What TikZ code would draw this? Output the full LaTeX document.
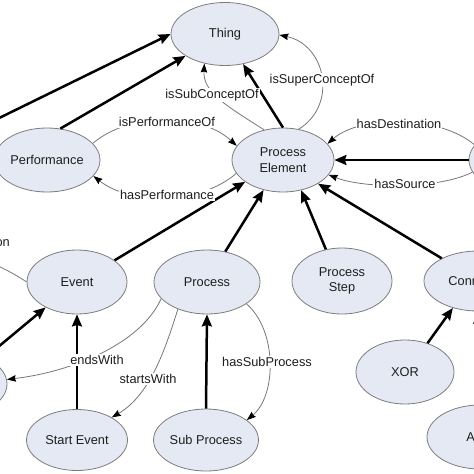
\documentclass[tikz,border=0pt]{standalone}
\usepackage{fontspec}
\setmainfont{Liberation Sans}
\usetikzlibrary{arrows.meta,shapes.geometric}
\definecolor{nodefill}{RGB}{228,233,244}
\definecolor{nodeline}{RGB}{125,125,125}
\definecolor{thinline}{RGB}{120,120,120}
\definecolor{txt}{RGB}{30,30,30}
\begin{document}
\begin{tikzpicture}[x=1pt,y=-1pt,
  font=\fontsize{12.8}{15.5}\selectfont,
  ent/.style={ellipse, draw=nodeline, fill=nodefill, line width=0.8pt, inner sep=0pt, text=txt, align=center},
  isa/.style={line width=2.5pt, -{Stealth[length=12pt,width=10pt,inset=1.5pt]}},
  rel/.style={draw=thinline, line width=0.8pt, -{Stealth[length=9pt,width=6.5pt,inset=1pt,black]}},
  plain/.style={draw=thinline, line width=0.8pt},
  rellabel/.style={fill=white, inner sep=1pt, text=txt}]
\useasboundingbox (0,0) rectangle (474,474);
\clip (0,0) rectangle (474,474);
\fill[white] (0,0) rectangle (474,474);

% nodes
\node[ent, minimum width=108pt, minimum height=63pt] (thing) at (225,34) {Thing};
\node[ent, minimum width=106pt, minimum height=64pt] (perf) at (47,160) {Performance};
\node[ent, minimum width=102pt, minimum height=64pt] (pe) at (283,160) {Process\\Element};
\node[ent, minimum width=104pt, minimum height=64pt] (rnode) at (521,160) {};
\node[ent, minimum width=100pt, minimum height=64pt] (event) at (77,282) {Event};
\node[ent, minimum width=106pt, minimum height=64pt] (process) at (207,282) {Process};
\node[ent, minimum width=100pt, minimum height=66pt] (pstep) at (342,281) {Process\\Step};
\node[ent, minimum width=108pt, minimum height=60pt] (conn) at (478,281) {Connector};
\node[ent, minimum width=98pt, minimum height=64pt] (xor) at (405,372) {XOR};
\node[ent, minimum width=106pt, minimum height=64pt] (and) at (480,437) {AND};
\node[ent, minimum width=101pt, minimum height=61pt] (startev) at (77,440) {Start Event};
\node[ent, minimum width=105pt, minimum height=62pt] (subproc) at (206,440) {Sub Process};
\node[ent, minimum width=104pt, minimum height=64pt] (endev) at (-45,384) {};
\coordinate (offA) at (-60,147);
\coordinate (offB) at (-45,248);

% thick subclass arrows
\draw[isa] (offA) -- (thing.180);
\draw[isa] (perf.67) -- (thing.209);
\draw[isa] (pe.90) -- (thing.301);
\draw[isa] (rnode.180) -- (pe.0);
\draw[isa] (event.30) -- (pe.210);
\draw[isa] (process.59) -- (pe.237);
\draw[isa] (pstep.117) -- (pe.301);
\draw[isa] (conn.148) -- (pe.326);
\draw[isa] (xor.52) -- (conn.227);
\draw[isa] (and.north) -- (conn.south);
\draw[isa] (endev.41) -- (event.219);
\draw[isa] (startev.north) -- (event.south);
\draw[isa] (subproc.north) -- (process.south);

% thin relations
\draw[rel] (pe.122) .. controls (225,105) and (203,92) .. (thing.235);
\draw[rel] (pe.63) .. controls (338,105) and (326,45) .. (thing.359);
\draw[rel] (perf.20) .. controls (130,112) and (200,112) .. (pe.163);
\draw[rel] (pe.196) .. controls (200,205) and (130,205) .. (perf.341);
\draw[rel] (rnode.162) .. controls (440,115) and (360,115) .. (pe.20);
\draw[rel] (rnode.194) .. controls (440,189) and (365,189) .. (pe.342);
\draw[rel] (process.200) .. controls (140,345) and (70,372) .. (endev.5);
\draw[rel] (process.223) .. controls (165,350) and (150,395) .. (startev.33);
\draw[rel] (process.331) .. controls (277,330) and (277,395) .. (subproc.26);
\draw[plain] (event.180) .. controls (12,272) and (-8,262) .. (offB);

% labels
\node[rellabel] (lsub) at (212,95) {isSubConceptOf};
\node[rellabel] (lsup) at (322,80) {isSuperConceptOf};
\node[rellabel] (lpof) at (167,122) {isPerformanceOf};
\node[rellabel] (lhp) at (167,195) {hasPerformance};
\node[rellabel] (ldest) at (399,124) {hasDestination};
\node[rellabel] (lsrc) at (405,184) {hasSource};
\node[rellabel] (lends) at (97,360) {endsWith};
\node[rellabel] (lstarts) at (148,379) {startsWith};
\node[rellabel] (lsubp) at (267,362) {hasSubProcess};
\node[rellabel, anchor=east] (lon) at (11,243) {on};
\end{tikzpicture}
\end{document}
